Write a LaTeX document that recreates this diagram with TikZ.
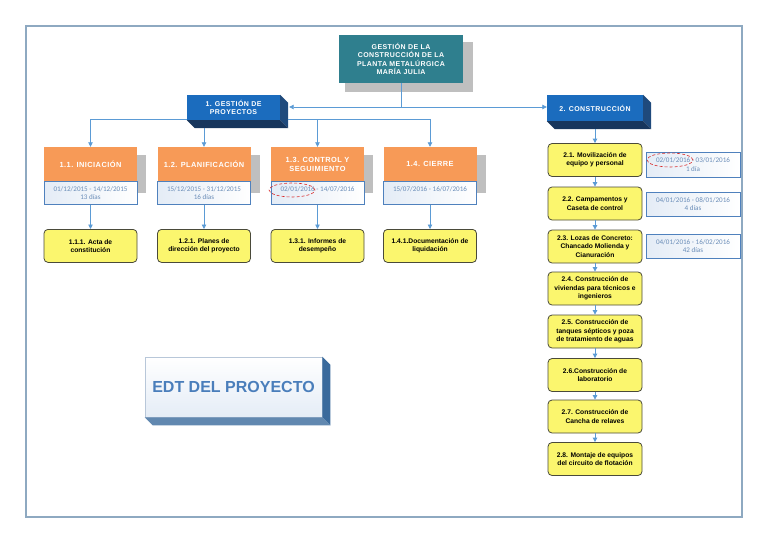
\documentclass[tikz,border=0pt]{standalone}
\usepackage{fontspec}
\setmainfont{Liberation Sans}
\newfontfamily\datefont{Carlito}
\newfontfamily\capsfont[LetterSpace=6]{Liberation Sans}
\usepackage{xcolor}
\usepackage{tikz}
\usetikzlibrary{arrows.meta}
\definecolor{EDFrame}{HTML}{8EA9C1}
\definecolor{EDTeal}{HTML}{2F7F8E}
\definecolor{EDShadow}{HTML}{BFBFBF}
\definecolor{EDBlue}{HTML}{1B6CBE}
\definecolor{EDNavy}{HTML}{17365D}
\definecolor{EDNavyB}{HTML}{1F4A7C}
\definecolor{EDOrange}{HTML}{F79A57}
\definecolor{EDLine}{HTML}{5B9BD5}
\definecolor{EDDate}{HTML}{4F81BD}
\definecolor{EDDateText}{HTML}{6A8DB8}
\definecolor{EDPale}{HTML}{E4ECF6}
\definecolor{EDYellow}{HTML}{FBF66E}
\definecolor{EDYelLine}{HTML}{4A4A3A}
\definecolor{EDTitle}{HTML}{4A7EBB}
\definecolor{EDEdtLine}{HTML}{B8C7D9}
\definecolor{EDEdtSide}{HTML}{3A6A9C}
\definecolor{EDRed}{HTML}{D92B2B}

\begin{document}
\begin{tikzpicture}[x=1pt,y=-1pt,
  conn/.style={EDLine,line width=.8pt},
  arr/.style={conn,-{Triangle[width=4.5pt,length=4.5pt]}},
  topbox/.style={fill=EDTeal,text=white,inner sep=0pt,align=center,
    minimum width=124pt,minimum height=48pt,
    font=\capsfont\bfseries\fontsize{7}{8.6}\selectfont},
  blockbox/.style={fill=EDBlue,text=white,inner sep=0pt,align=center,
    font=\capsfont\bfseries\fontsize{7}{8.4}\selectfont},
  phase/.style={fill=EDOrange,text=white,inner sep=0pt,align=center,
    minimum width=93pt,minimum height=34pt,
    font=\capsfont\bfseries\fontsize{7.4}{9}\selectfont},
  datebox/.style={draw=EDDate,line width=.7pt,left color=EDPale,right color=white,
    text=EDDateText,inner sep=0pt,align=center,
    font=\datefont\fontsize{7.1}{8.8}\selectfont},
  workbox/.style={draw=EDYelLine,line width=.8pt,fill=EDYellow,rounded corners=4pt,
    inner sep=0pt,align=center,minimum height=33pt,
    font=\bfseries\fontsize{6.7}{8.4}\selectfont}]
\path[use as bounding box] (0,0) rectangle (768,543);
\draw[EDFrame,line width=1.3pt] (26,26) rectangle (742,517);

% top of the breakdown
\fill[EDShadow] (345,42) rectangle (473,92);
\node[topbox] (gestion) at (401,59) {GESTIÓN DE LA\\CONSTRUCCIÓN DE LA\\PLANTA METALÚRGICA\\MARÍA JULIA};

% level 1
\node[blockbox,minimum width=93pt,minimum height=25pt] (proy) at (233.5,107.5) {1. GESTIÓN DE\\PROYECTOS};
\fill[EDNavyB] (proy.north east) -- ++(8,8) -- ([shift={(8,8)}]proy.south east) -- (proy.south east) -- cycle;
\fill[EDNavy] (proy.south west) -- ++(8,8) -- ([shift={(8,8)}]proy.south east) -- (proy.south east) -- cycle;
\node[blockbox,minimum width=96pt,minimum height=26pt] (constr) at (595,108) {2. CONSTRUCCIÓN};
\fill[EDNavyB] (constr.north east) -- ++(8,8) -- ([shift={(8,8)}]constr.south east) -- (constr.south east) -- cycle;
\fill[EDNavy] (constr.south west) -- ++(8,8) -- ([shift={(8,8)}]constr.south east) -- (constr.south east) -- cycle;

\draw[conn] (gestion.south) -- (401,107) coordinate (hub);
\draw[arr] (hub) -- ([xshift=9pt]proy.east |- hub);
\draw[arr] (hub) -- (constr.west |- hub);

% phases of 1
\node[phase] (inic) at (90.5,164) {1.1. INICIACIÓN};
\node[phase] (plan) at (204,164) {1.2. PLANIFICACIÓN};
\node[phase] (ctrl) at (317.5,164) {1.3. CONTROL Y\\SEGUIMIENTO};
\node[phase] (cierre) at (430,164) {1.4. CIERRE};
\fill[EDShadow] ([yshift=-8pt]inic.north east) rectangle ++(9,38);
\fill[EDShadow] ([yshift=-8pt]plan.north east) rectangle ++(9,38);
\fill[EDShadow] ([yshift=-8pt]ctrl.north east) rectangle ++(9,38);
\fill[EDShadow] ([yshift=-8pt]cierre.north east) rectangle ++(9,38);

\coordinate (bus) at (233,119);
\draw[arr] (proy.west |- bus) -| (inic.north);
\draw[arr] ([yshift=-8pt]proy.south -| plan.north) -- (plan.north);
\draw[arr] ([xshift=8pt]proy.east |- bus) -| (ctrl.north);
\draw[arr] ([xshift=8pt]proy.east |- bus) -| (cierre.north);

\node[datebox,anchor=north,minimum width=93pt,minimum height=23pt] (dinic) at (inic.south) {01/12/2015 - 14/12/2015\\13 días};
\node[datebox,anchor=north,minimum width=93pt,minimum height=23pt] (dplan) at (plan.south) {15/12/2015 - 31/12/2015\\16 días};
\node[datebox,anchor=north,minimum width=93pt,minimum height=23pt] (dctrl) at (ctrl.south) {02/01/2016 - 14/07/2016\\\phantom{0}};
\node[datebox,anchor=north,minimum width=93pt,minimum height=23pt] (dcierre) at (cierre.south) {15/07/2016 - 16/07/2016\\\phantom{0}};
\draw[EDRed,densely dashed,line width=.6pt] (292,190) ellipse [x radius=23pt,y radius=7pt];

% work packages of 1
\node[workbox,anchor=north,minimum width=93pt] (acta) at (90.5,229) {1.1.1. Acta de\\constitución};
\node[workbox,anchor=north,minimum width=93pt] (planes) at (204,229) {1.2.1. Planes de\\dirección del proyecto};
\node[workbox,anchor=north,minimum width=93pt] (informes) at (317.5,229) {1.3.1. Informes de\\desempeño};
\node[workbox,anchor=north,minimum width=93pt] (liquid) at (430,229) {1.4.1.Documentación de\\liquidación};
\draw[arr] (dinic.south) -- (acta.north);
\draw[arr] (dplan.south) -- (planes.north);
\draw[arr] (dctrl.south) -- (informes.north);
\draw[arr] (dcierre.south) -- (liquid.north);

% work packages of 2
\node[workbox,minimum width=94pt] (movil) at (595,160) {2.1. Movilización de\\equipo y personal};
\node[workbox,minimum width=94pt] (campam) at (595,203.5) {2.2. Campamentos y\\Caseta de control};
\node[workbox,minimum width=94pt] (lozas) at (595,246.5) {2.3. Lozas de Concreto:\\Chancado Molienda y\\Cianuración};
\node[workbox,minimum width=94pt] (vivien) at (595,288.5) {2.4. Construcción de\\viviendas para técnicos e\\ingenieros};
\node[workbox,minimum width=94pt] (tanques) at (595,331.5) {2.5. Construcción de\\tanques sépticos y poza\\de tratamiento de aguas};
\node[workbox,minimum width=94pt] (labor) at (595,375) {2.6.Construcción de\\laboratorio};
\node[workbox,minimum width=94pt] (cancha) at (595,416.5) {2.7. Construcción de\\Cancha de relaves};
\node[workbox,minimum width=94pt] (montaje) at (595,459) {2.8. Montaje de equipos\\del circuito de flotación};
\draw[arr] ([yshift=-8pt]constr.south) -- (movil.north);
\draw[arr] (movil.south) -- (campam.north);
\draw[arr] (campam.south) -- (lozas.north);
\draw[arr] (lozas.south) -- (vivien.north);
\draw[arr] (vivien.south) -- (tanques.north);
\draw[arr] (tanques.south) -- (labor.north);
\draw[arr] (labor.south) -- (cancha.north);
\draw[arr] (cancha.south) -- (montaje.north);

\node[datebox,minimum width=94pt,minimum height=25pt] (dmovil) at (693,164.5) {02/01/2016 - 03/01/2016\\1 día};
\node[datebox,minimum width=94pt,minimum height=24pt] (dcampam) at (693,204) {04/01/2016 - 08/01/2016\\4 días};
\node[datebox,minimum width=94pt,minimum height=24pt] (dlozas) at (693,246) {04/01/2016 - 16/02/2016\\42 días};
\draw[EDRed,densely dashed,line width=.6pt] (670,160) ellipse [x radius=23pt,y radius=7pt];

% title block
\node[draw=EDEdtLine,line width=.7pt,top color=white,bottom color=EDPale,text=EDTitle,
  minimum width=177pt,minimum height=60pt,inner sep=0pt,
  font=\bfseries\fontsize{16}{18}\selectfont] (edt) at (233.5,387) {EDT DEL PROYECTO};
\fill[EDEdtSide] (edt.north east) -- ++(8,8) -- ([shift={(8,8)}]edt.south east) -- (edt.south east) -- cycle;
\fill[EDEdtSide!80!white] (edt.south west) -- ++(8,8) -- ([shift={(8,8)}]edt.south east) -- (edt.south east) -- cycle;
\end{tikzpicture}
\end{document}
